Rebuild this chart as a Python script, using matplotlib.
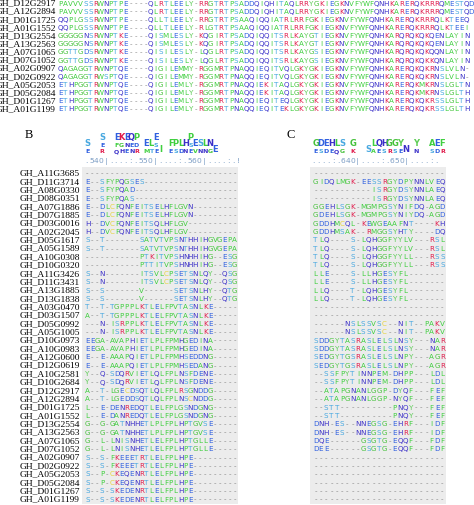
import matplotlib.pyplot as plt

# ---------------------------------------------------------------------------
# Alignment data
# ---------------------------------------------------------------------------
names_a = ["D12G2917", "A12G2894", "D01G1725", "A01G1552", "D13G2554", "A13G2563",
           "A07G1065", "D07G1052", "A02G0907", "D02G0922", "A05G2053", "D05G2084",
           "D01G1267", "A01G1199"]
seqs_a = [
    "PAVVVSSRWNPTPE----QLRTLEELY-RRGTRTPSADDQIQHITAQLRRYGKIEGKNVFYWFQNHKARERQKRRRQMESTQD",
    "PAVVVSSRWNPTPE----QLRTLEELY-RRGTRTPSADDQIQHITAQLRRYGKIEGKNVFYWFQNHKARERQKRRRQMESTQD",
    "QQPLGSSRWNPTPE----QLLTLEELY-RRGTRTPSAAQIQQIATRLRRFGKIEGKNVFYWFQNHKARERQKRRRQLKTEEQ",
    "QQPLGSSRWNPTPE----QLLTLEELY-RLGTRTPSAAQIQQIATRLRRFGKIEGKNVFYWFQNHKARERQKRRRQLKTEEI",
    "GGGGGNSRWNPTKE----QISMLESLY-KQGIRTPSADQIQQITSRLKAYGTIEGKNVFYWFQNHKARQRQKQKQENLAYIN",
    "GGGGGNSRWNPTKE----QISMLESLY-KQGIRTPSADQIQQITSRLKAYGTIEGKNVFYWFQNHKARQRQKQKQENLAYIN",
    "GGTTGDSRWNPTKE----QISILESLY-LQGLRTPSADQIQQITSRLKAYGSIEGKNVFYWFQNHKARQRQKQKQQNLAYIN",
    "GGTTGDSRWNPTKE----QISILESLY-LQGLRTPSADQIQQITSRLKAYGSIEGKNVFYWFQNHKARQRQKQKKQNLAYIN",
    "QAGAGGTRWNPTQE----QIGILEMMY-RGGMRTPNAQQIEQITVQLGKYGKIEGKNVFYWFQNHKARERQKQKRNSLVLN-",
    "QAGAGGTRWSPTQE----QIGILEMMY-RGGMRTPNAQQIEQITVQLGKYGKIEGKNVFYWFQNHKARERQKQKRNSLVLN-",
    "ETHPGGTRWNPTQE----QIGILEMLY-RGGMRTPNAQQIEKITAQLGKYGKIEGKNVFYWFQNHKARERQKMKRNSLGLTN",
    "ETHPGGTRWNPTQE----QIGILEMLY-RGGMRTPNAQQIEKITAQLGKYGKIEGKNVFYWFQNHKARERQKMKRNSLGLTH",
    "ETHPGGTRWNPTQE----QIGILEMLY-RGGMRTPNAQQIEQITEQLGKYGKIEGKNVFYWFQNHKARERQKQKRSSLGLTH",
    "ETHPGGTRWNPTQE----QIGILEMLY-RGGMRTPNAQQIEQITEKLGKYGKIEGKNVFYWFQNHKARERQKQKRSSLGLTH",
]

names_bc = ["A11G3685", "D11G3714", "A08G0330", "D08G0351", "A07G1886", "D07G1885",
            "D03G0016", "A02G2045", "D05G1617", "A05G1589", "A10G0308", "D10G0320",
            "A11G3426", "D11G3431", "A13G1885", "D13G1838", "A03G0470", "D03G1507",
            "D05G0992", "A05G1005", "D10G0973", "A10G0983", "A12G0600", "D12G0619",
            "A10G2581", "D10G2684", "D12G2917", "A12G2894", "D01G1725", "A01G1552",
            "D13G2554", "A13G2563", "A07G1065", "D07G1052", "A02G0907", "D02G0922",
            "A05G2053", "D05G2084", "D01G1267", "A01G1199"]
seqs_b = [
    "-------------------------------",
    "E--SFYPQGSES-------------------",
    "E--SFYPQAD---------------------",
    "E--SFYPQAS---------------------",
    "E--DLCFQNFEITSELHFLGVN---------",
    "E--DLCFQNFEITSELHFLGVN---------",
    "H--DVCFQNFEITSQLHFLGV----------",
    "H--DVCFQNFEITSQLHFLGV----------",
    "S--T-------SATVTVPSNTHHIHGVGEPA",
    "S--T-------SATVTVPSNTHHIHGVGEPA",
    "-----------PTKITVPSHNHHIHG--ESG",
    "-----------PTTITVPSHNHHIHG--ESG",
    "S--N-------ITSVLCPSETSNLQY--QSG",
    "S--N-------ITSVLCPSETSNLQY--QSG",
    "S--S-------V------SETSNLHY--QTG",
    "S--S-------V------SETSNLHY--QTG",
    "T--T-TGPPPLKTLELFPVTASNLKE-----",
    "A--T-TGPPPLKTLELFPVTASNLKE-----",
    "---N-ISRPPLKTLELFPVTASNLKE-----",
    "---N-ISRPPLKTLELFPVTASNLKE-----",
    "EEGA-AVAPHIETLPLFPMHGEDINA-----",
    "EEGA-AVAPHIETLPLFPMHGEDINA-----",
    "E--E-AAAPQIETLPLFPMHSEDDNG-----",
    "E--E-AAAPQIETLPLFPMHSEDANG-----",
    "Y--Q-SDQRVIETLQLFPLNSFDENE-----",
    "Y--Q-SDQRVIETLQLFPLNSFDENE-----",
    "A--T-LGECDSQTLQLFPLRSGNDDG-----",
    "A--T-LGEDDSQTLQLFPLNSCNDDG-----",
    "L--E-DENREDQTLELFPLGSNDGNG-----",
    "L--E-DANREDQTLELFPLGSNDGNG-----",
    "G--G-GATNHHETLPLFPLHPTGVSE-----",
    "G--G-GATNHHETLPLFPLHPTGVSE-----",
    "G--L-LNISNHETLELFPLHPTGLLE-----",
    "G--L-LNISNHETLELFPLHPTGLLE-----",
    "S--S-FKEEETRTLELFPLHPE---------",
    "S--S-FKEEETRTLELFPLHPE---------",
    "S--P-CKEQENRTLELFPLHPE---------",
    "S--P-CKEQENRTLELFPLHPE---------",
    "S--S-SKEDENRTLELFPLHPE---------",
    "S--S-SKEDENRTLELFPLHPE---------",
]
seqs_c = [
    "-------------------------",
    "GIDQLMGK-EESSRGYDPYNNLVEQ",
    "-----------ISRGYDSYNNLAEQ",
    "-----------ISRGYDSYNNLAEQ",
    "GGEHLSGK-MGMPGSYNIFDQ-AGD",
    "GDEHLSGK-MGMPGSYNIYDQ-AGD",
    "GDDHMCQL-KEWGEAAFNT----KH",
    "GDDHMSAK--RMGGSYHTY----DQ",
    "TLQ----S-LQHGGFYYLV---RSL",
    "TLQ----S-LQHGGFYYLV---RSL",
    "TLQ----S-LQHGGFYYLL---RSS",
    "TLQ----S-LQHGGFYYLL---RSS",
    "LLE----S-LLHGESYFL-------",
    "LLE----S-LLHGESYFL-------",
    "LLQ----T-LQHGESYFL-------",
    "LLQ----T-LQHGESYFL-------",
    "-------------------------",
    "-------------------------",
    "------NSLSSVSC--NIT--PAKV",
    "------NSLSSVSC--NIT--PAKV",
    "SDDGYTASRASLELSLNSY---NAR",
    "SDDGYTASRASLELSLNSY---NAR",
    "SEDGYTGSRASLELSLNPY---AGR",
    "SEDGYTGSRASLELSLNPY---AGR",
    "--SSFPYTINNPEM-DHPP---LDL",
    "--SSFPYTINNPEM-DHPP---LDL",
    "--ATAPGNANLGGP-DYQF---FEF",
    "--ATAPGNANLGGP-NYQF---FEF",
    "--STT----------PNQY---FEF",
    "--STT----------PNQY---FEF",
    "DNH-ES--NNEGSG-EHRF---IDF",
    "DNH-ES--NNEGSG-EHRF---IDF",
    "DQE------GSGTG-EQQF---FDF",
    "DEE------GSGTG-EQQF---FDF",
    "-------------------------",
    "-------------------------",
    "-------------------------",
    "-------------------------",
    "-------------------------",
    "-------------------------",
]
ruler_b = ".540|....:.550|....:.560|....:.!"
ruler_c = "....:.640|....:.650|....:."
# sequence logo columns, letters listed top to bottom
logo_b = ["SE", "", "", "SER", "", "", "EFQ", "KGH", "ENE", "QEN", "PDR", "", "EM",
          "LT", "ESE", "I", "", "FE", "PS", "LD", "HN", "PSE", "EV", "SN", "LN",
          "NG", "E", "", "", "", ""]
logo_c = ["GE", "DS", "ED", "HE", "LQ", "SG", "", "GK", "", "", "S", "LA", "QE",
          "HS", "GR", "GS", "YE", "N", "", "YN", "", "", "AS", "ED", "FR"]

COLORS = {}
for c in "AVLIMFWP":
    COLORS[c] = "#3fcf3f"
for c in "G":
    COLORS[c] = "#45c13a"
for c in "Y":
    COLORS[c] = "#5dcc55"
for c in "ST":
    COLORS[c] = "#48a8e0"
for c in "ED":
    COLORS[c] = "#2f5fe0"
for c in "NQH":
    COLORS[c] = "#3a2fc8"
for c in "RK":
    COLORS[c] = "#e01a4a"
COLORS["C"] = "#e6d43c"
COLORS["-"] = "#8a8a8a"

SEQ_FONT = dict(family="DejaVu Sans", fontsize=5.1)
NAME_FONT = dict(family="Liberation Serif", fontsize=6.8)

fig = plt.figure(figsize=(4.74, 5.06), dpi=100)
ax = fig.add_axes([0, 0, 1, 1])
ax.set_xlim(0, 474)
ax.set_ylim(506, 0)
ax.axis("off")


def draw_chars(s, x0, dx, y, colors=None, **kw):
    for j, ch in enumerate(s):
        col = colors if colors is not None else COLORS.get(ch, "#444444")
        ax.text(x0 + (j + 0.5) * dx, y, ch, ha="center", va="center", color=col, **kw)


def draw_block(names, seqs, x0, x1, y0, dy, name_right, bg=None):
    ncol = max(len(s) for s in seqs)
    dx = (x1 - x0) / ncol
    if bg is not None:
        ax.add_patch(plt.Rectangle((x0 - 3, y0 - dy / 2 - 1), x1 - x0 + 4,
                                   dy * len(seqs) + 2, color=bg, zorder=0, lw=0))
    for i, (nm, s) in enumerate(zip(names, seqs)):
        y = y0 + i * dy
        if name_right is not None:
            ax.text(name_right, y, "GH_" + nm, ha="right", va="center", **NAME_FONT)
        draw_chars(s, x0, dx, y, **SEQ_FONT)
    return dx


def draw_logo(cols, x0, dx, ybase):
    for j, col in enumerate(cols):
        n = len(col)
        for k, ch in enumerate(col):
            y = ybase - (n - 1 - k) * 6
            ax.text(x0 + (j + 0.5) * dx, y, ch, ha="center", va="bottom",
                    color=COLORS.get(ch, "#444444"), family="DejaVu Sans",
                    fontsize=6 if k == 0 else 4.5, fontweight="bold")


# Panel A
draw_block(names_a, seqs_a, 58, 474, 3.5, 8.15, 56)

# Panel B
dxb = draw_block(names_bc, seqs_b, 85, 237, 173.5, 8.36, 80, bg="#ececec")
ax.text(25, 135, "B", family="Liberation Serif", fontsize=9, va="center")
draw_chars(ruler_b, 84, dxb, 161, colors="#7a9cc4", family="DejaVu Sans", fontsize=5.4)
draw_logo(logo_b, 85, dxb, 154)

# Panel C
dxc = draw_block(names_bc, seqs_c, 313, 445, 173.5, 8.36, None, bg="#ececec")
ax.text(287, 135, "C", family="Liberation Serif", fontsize=9, va="center")
draw_chars(ruler_c, 311, 4.9, 161, colors="#7a9cc4", family="DejaVu Sans", fontsize=5.4)
draw_logo(logo_c, 313, dxc, 154)

fig.savefig("out.png", dpi=100)
